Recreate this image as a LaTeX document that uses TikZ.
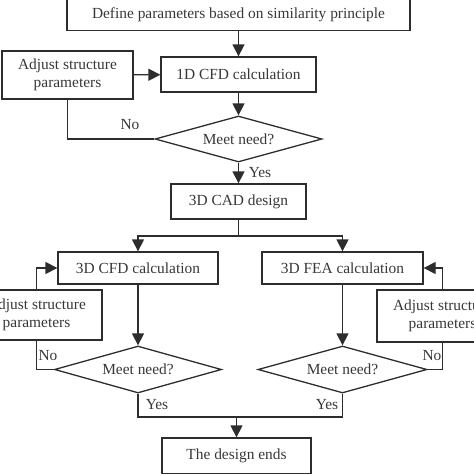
\documentclass[tikz,border=0pt]{standalone}
\usepackage{fontspec}
\setmainfont{Liberation Serif}
\usetikzlibrary{arrows.meta}
\usetikzlibrary{shapes.geometric}
\tikzset{>={Triangle[length=12pt,width=12pt]}}
\definecolor{chartline}{RGB}{45,45,45}
\definecolor{charttext}{RGB}{55,55,55}
\tikzstyle{stepbox}=[draw=chartline,line width=1.3pt,rectangle,inner sep=2pt,align=center,text=charttext]
\tikzstyle{testbox}=[draw=chartline,line width=1.3pt,diamond,aspect=3.6,inner sep=0pt,text=charttext]
\tikzstyle{flowline}=[draw=chartline,line width=1.3pt]
\tikzstyle{answer}=[text=charttext,inner sep=1pt]

\begin{document}
\begin{tikzpicture}[x=1pt,y=-1pt,font=\fontsize{15.4}{17.5}\selectfont]
  \useasboundingbox (0,0) rectangle (474,474);

  \node[stepbox,minimum width=343pt,minimum height=31pt] (define) at (238.5,15)  {Define parameters based on similarity principle};
  \node[stepbox,minimum width=155pt,minimum height=35pt] (cfd1)   at (238.5,74.5) {1D CFD calculation};
  \node[stepbox,minimum width=131pt,minimum height=48pt] (adj1)   at (67.5,75)    {Adjust structure\\parameters};
  \node[testbox,minimum width=167pt,minimum height=46pt] (meet1)  at (238.5,139)  {Meet need?};
  \node[stepbox,minimum width=135pt,minimum height=35pt] (cad)    at (238.5,201.5) {3D CAD design};
  \node[stepbox,minimum width=160pt,minimum height=32pt] (cfd3)   at (138,268)    {3D CFD calculation};
  \node[stepbox,minimum width=161pt,minimum height=32pt] (fea)    at (342.5,268)  {3D FEA calculation};
  \node[stepbox,minimum width=131pt,minimum height=50pt] (adj2)   at (36.5,315)   {Adjust structure\\parameters};
  \node[stepbox,minimum width=131pt,minimum height=52pt] (adj3)   at (442.5,316)  {Adjust structure\\parameters};
  \node[testbox,minimum width=167pt,minimum height=47pt] (meet2)  at (138,369.5)  {Meet need?};
  \node[testbox,minimum width=169pt,minimum height=47pt] (meet3)  at (342.5,369.5) {Meet need?};
  \node[stepbox,minimum width=149pt,minimum height=36pt] (ends)   at (236.5,456)  {The design ends};

  \coordinate (split) at (238.5,236);
  \coordinate (merge) at (236.5,417);

  % first loop
  \draw[flowline,->] (define) -- (cfd1);
  \draw[flowline,->] (adj1) -- (cfd1);
  \draw[flowline,->] (cfd1) -- (meet1);
  \draw[flowline] (meet1.west) -| (adj1.south);
  \draw[flowline,->] (meet1) -- (cad);

  % two branches
  \draw[flowline] (cad.south) -- (split);
  \draw[flowline,->] (split) -| (cfd3.north);
  \draw[flowline,->] (split) -| (fea.north);
  \draw[flowline,->] (cfd3) -- (meet2);
  \draw[flowline,->] (fea) -- (meet3);
  \draw[flowline] (meet2.west) -| (adj2.south);
  \draw[flowline,->] (adj2.north) |- (cfd3.west);
  \draw[flowline] (meet3.east) -| (adj3.south);
  \draw[flowline,->] (adj3.north) |- (fea.east);
  \draw[flowline] (meet2.south) |- (merge);
  \draw[flowline] (meet3.south) |- (merge);
  \draw[flowline,->] (merge) -- (ends);

  \node[answer] (no1)  at (130,125) {No};
  \node[answer] (yes1) at (260,173) {Yes};
  \node[answer] (no2)  at (48,356)  {No};
  \node[answer] (no3)  at (432,356) {No};
  \node[answer] (yes2) at (157,405) {Yes};
  \node[answer] (yes3) at (327,405) {Yes};
\end{tikzpicture}
\end{document}
